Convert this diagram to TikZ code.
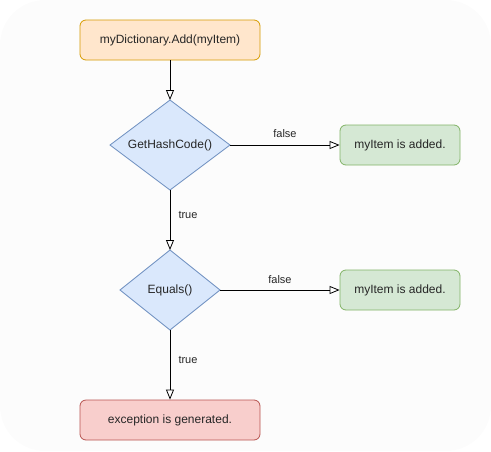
\documentclass[tikz,border=0pt]{standalone}
\usepackage{fontspec}
\setmainfont{Liberation Sans}
\usetikzlibrary{shapes.geometric,arrows.meta}
\definecolor{bgc}{HTML}{FCFCFC}
\definecolor{orfill}{HTML}{FFE6CC}
\definecolor{orline}{HTML}{D79B00}
\definecolor{blfill}{HTML}{DAE8FC}
\definecolor{blline}{HTML}{6C8EBF}
\definecolor{grfill}{HTML}{D5E8D4}
\definecolor{grline}{HTML}{82B366}
\definecolor{rdfill}{HTML}{F8CECC}
\definecolor{rdline}{HTML}{B85450}
\begin{document}
\begin{tikzpicture}[x=1pt,y=-1pt,
  every node/.style={font=\fontsize{12}{14}\selectfont, text=black!85},
  rbox/.style={rectangle, rounded corners=6pt, minimum width=180pt, minimum height=40pt, inner sep=0pt, line width=0.8pt},
  gbox/.style={rectangle, rounded corners=6pt, minimum width=120pt, minimum height=40pt, inner sep=0pt, line width=0.8pt, draw=grline, fill=grfill},
  dmd/.style={diamond, inner sep=0pt, outer sep=0pt, draw=blline, fill=blfill, line width=0.8pt},
  conn/.style={draw=black, line width=0.8pt, -{Triangle[open, length=10pt, width=8pt, fill=white]}},
  lbl/.style={font=\fontsize{11}{13}\selectfont, fill=none}
]
\useasboundingbox (0,0) rectangle (491,451);
\fill[bgc, rounded corners=45pt] (0,0) rectangle (491,451);

\node[rbox, draw=orline, fill=orfill] (start) at (170,40) {myDictionary.Add(myItem)};
\node[dmd, aspect=1.333, minimum width=120pt, minimum height=90pt] (hash) at (170,145) {GetHashCode()};
\node[gbox] (add1) at (400,145) {myItem is added.};
\node[dmd, aspect=1.25, minimum width=100pt, minimum height=80pt] (eq) at (170,290) {Equals()};
\node[gbox] (add2) at (400,290) {myItem is added.};
\node[rbox, draw=rdline, fill=rdfill] (exc) at (170,420) {exception is generated.};

\draw[conn] (start) -- (hash);
\draw[conn] (hash) -- (add1);
\draw[conn] (hash) -- (eq);
\draw[conn] (eq) -- (add2);
\draw[conn] (eq) -- (exc);

\node[lbl] (l1) at (285,134) {false};
\node[lbl] (l2) at (188,215) {true};
\node[lbl] (l3) at (280,280) {false};
\node[lbl] (l4) at (188,360) {true};
\end{tikzpicture}
\end{document}
